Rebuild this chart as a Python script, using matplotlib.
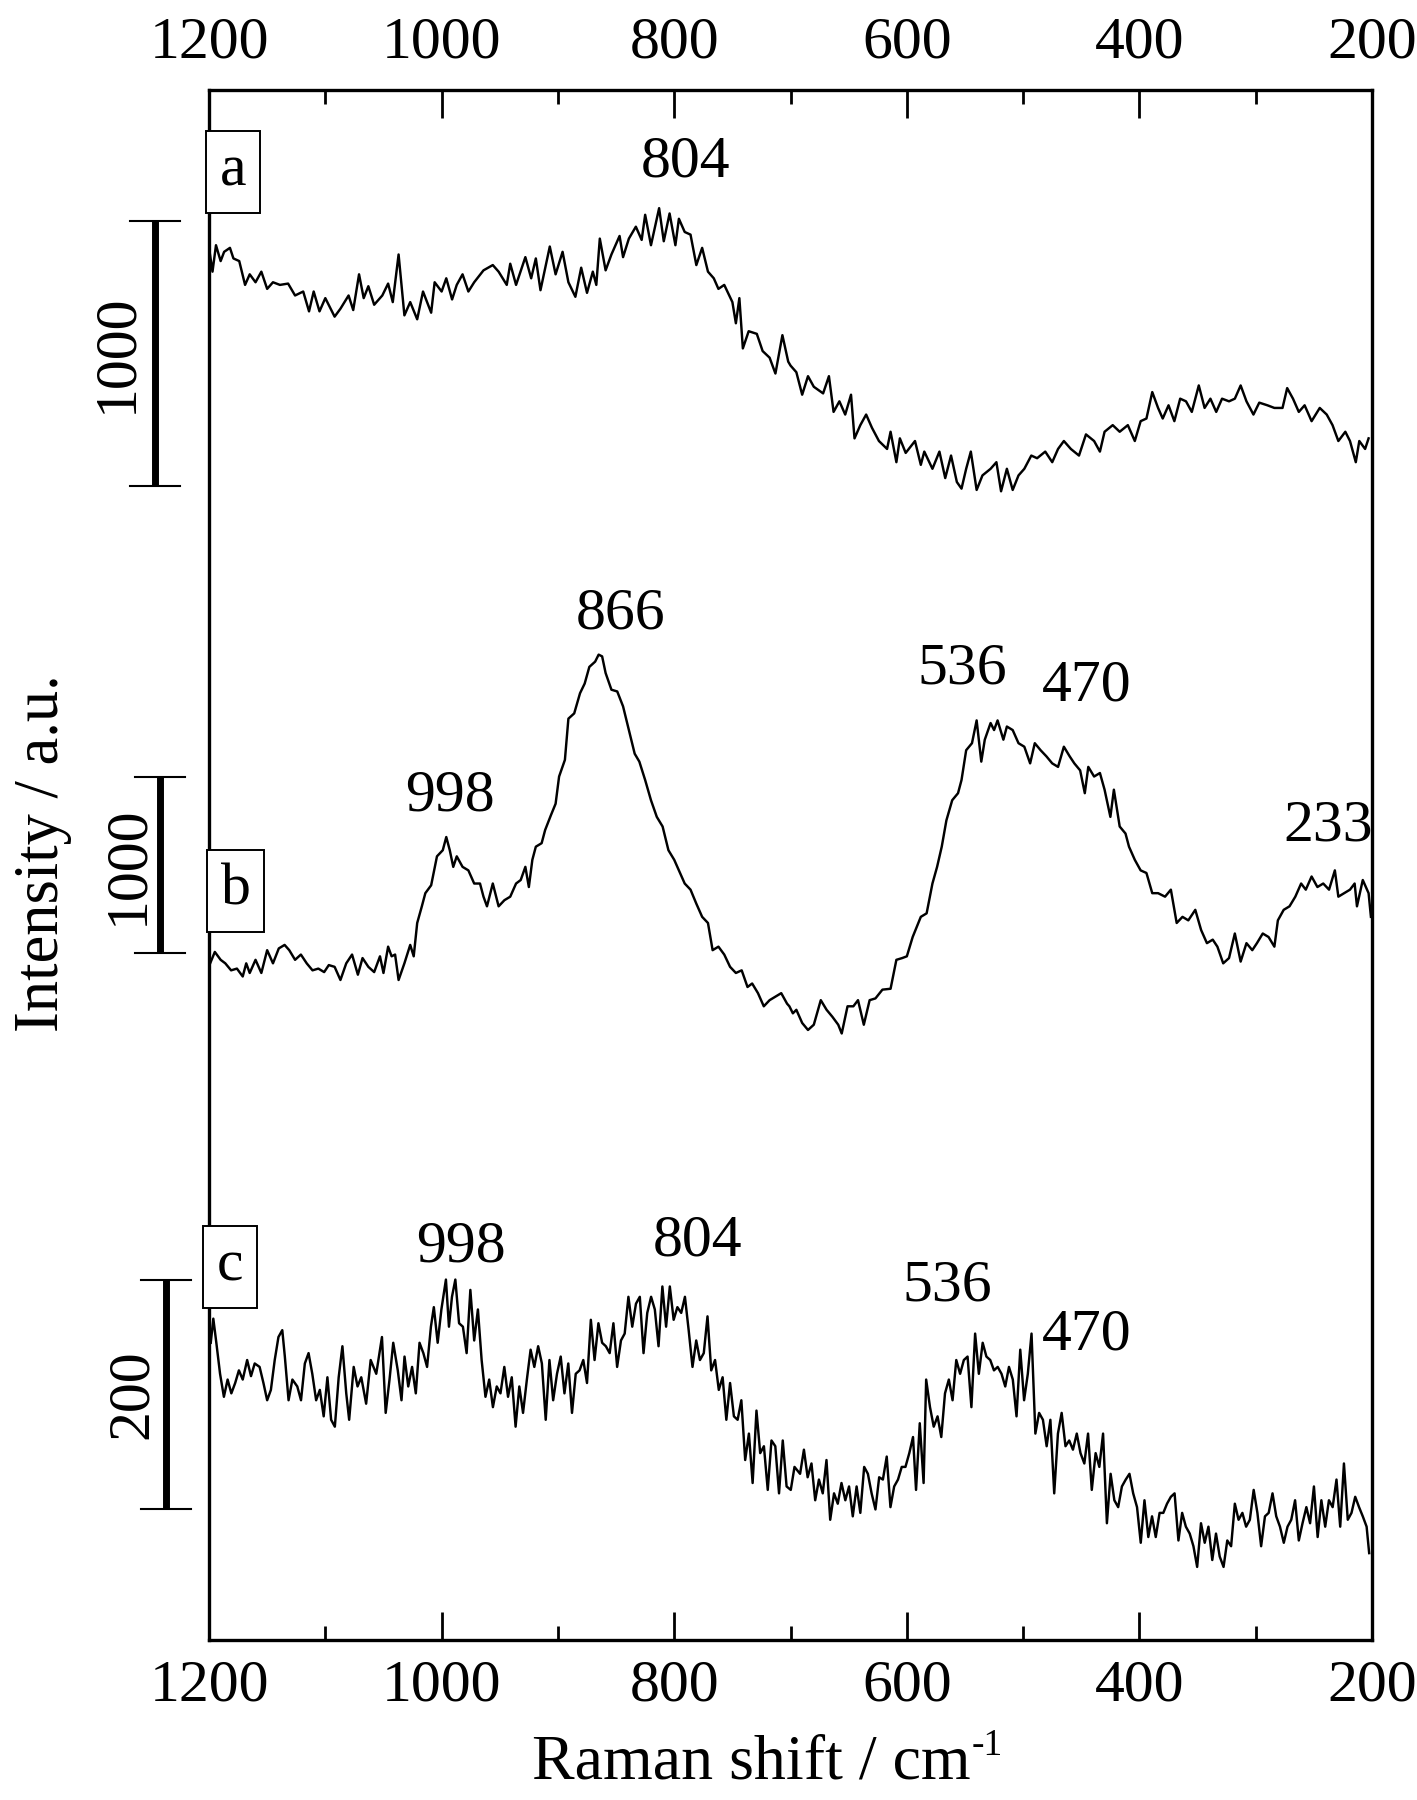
import numpy as np
import matplotlib
matplotlib.use("Agg")
import matplotlib.pyplot as plt
from matplotlib.ticker import MultipleLocator
from matplotlib.transforms import blended_transform_factory

plt.rcParams['font.family'] = ['Liberation Serif', 'DejaVu Serif']

# ---- spectra (Raman shift / cm-1, intensity / counts) ----
wn_a = [1200, 1197, 1194, 1190, 1187, 1182, 1179, 1174, 1169, 1165,
        1160, 1155, 1150, 1145, 1139, 1132, 1126, 1119, 1114, 1110,
        1105, 1100, 1092, 1087, 1080, 1076, 1071, 1067, 1063, 1058,
        1051, 1046, 1042, 1037, 1032, 1027, 1021, 1016, 1009, 1006,
        1000, 996, 991, 987, 982, 977, 972, 964, 956, 951,
        944, 941, 936, 928, 923, 919, 915, 907, 902, 896,
        891, 885, 880, 875, 870, 867, 864, 859, 854, 847,
        844, 839, 833, 828, 825, 820, 813, 809, 804, 799,
        796, 791, 786, 781, 776, 771, 766, 762, 757, 750,
        747, 744, 741, 736, 729, 724, 718, 713, 707, 702,
        700, 695, 690, 685, 680, 672, 667, 663, 658, 653,
        648, 645, 640, 635, 630, 624, 617, 614, 609, 606,
        601, 593, 588, 585, 578, 572, 567, 562, 557, 553,
        549, 545, 540, 535, 528, 523, 519, 514, 509, 504,
        499, 493, 488, 481, 475, 470, 465, 459, 452, 446,
        439, 434, 430, 423, 417, 410, 404, 399, 394, 389,
        384, 380, 375, 370, 365, 360, 355, 349, 344, 339,
        334, 329, 323, 318, 313, 308, 302, 297, 290, 284,
        277, 273, 268, 263, 258, 252, 245, 239, 234, 229,
        223, 219, 214, 211, 206, 203]
int_a = [900, 810, 910, 850, 885, 900, 860, 850, 760, 800,
         770, 810, 745, 770, 760, 765, 720, 735, 660, 735,
         660, 710, 640, 670, 720, 665, 800, 710, 755, 685,
         720, 765, 695, 875, 645, 695, 630, 735, 655, 770,
         735, 785, 705, 760, 800, 735, 770, 815, 835, 810,
         760, 840, 760, 865, 785, 860, 740, 905, 800, 885,
         770, 715, 825, 730, 810, 760, 935, 815, 875, 945,
         865, 935, 980, 930, 1025, 910, 1050, 925, 1030, 910,
         1010, 960, 950, 835, 900, 810, 785, 745, 760, 695,
         615, 710, 520, 585, 575, 510, 485, 425, 570, 470,
         455, 430, 345, 415, 375, 350, 415, 280, 320, 270,
         345, 180, 230, 270, 220, 170, 140, 205, 90, 180,
         125, 170, 80, 130, 65, 130, 30, 115, 15, -10,
         65, 130, -15, 40, 65, 90, -20, 65, -15, 40,
         65, 115, 105, 130, 90, 140, 170, 140, 115, 195,
         170, 130, 205, 230, 205, 230, 170, 245, 255, 355,
         295, 255, 305, 245, 330, 320, 280, 380, 295, 330,
         280, 330, 320, 330, 380, 320, 270, 315, 305, 295,
         295, 370, 330, 280, 305, 245, 295, 270, 230, 170,
         205, 170, 90, 170, 140, 180]

wn_b = [1199, 1195, 1190, 1186, 1181, 1176, 1171, 1168, 1165, 1160,
        1155, 1150, 1145, 1140, 1135, 1131, 1126, 1121, 1116, 1111,
        1106, 1101, 1097, 1092, 1087, 1082, 1077, 1072, 1068, 1063,
        1058, 1053, 1050, 1046, 1043, 1040, 1037, 1032, 1027, 1024,
        1021, 1017, 1014, 1009, 1004, 999, 996, 993, 990, 987,
        982, 977, 972, 967, 964, 961, 956, 951, 946, 941,
        936, 932, 928, 925, 922, 919, 914, 911, 906, 902,
        899, 894, 891, 886, 881, 877, 873, 868, 865, 862,
        859, 854, 849, 844, 839, 834, 830, 825, 820, 815,
        810, 805, 800, 796, 791, 786, 781, 776, 771, 767,
        762, 757, 752, 747, 742, 737, 733, 728, 723, 718,
        713, 708, 703,
        701, 698, 695, 690, 685, 680, 674, 669, 664, 659,
        656, 651, 646, 642, 637, 632, 627, 621, 614, 609,
        604, 600, 595, 588, 583, 578, 574, 570, 566, 561,
        556, 553, 549, 544, 540, 536, 533, 528, 525, 522,
        517, 514, 509, 504, 499, 494, 490, 485, 480, 475,
        470, 465, 460, 456, 451, 447, 444, 439, 434, 430,
        425, 422, 417, 412, 409, 404, 399, 394, 389, 384,
        378, 373, 368, 363, 358, 352, 347, 342, 337, 333,
        328, 323, 318, 313, 308, 303, 299, 294, 289, 284,
        281, 276, 271, 266, 261, 257, 252, 247, 242, 237,
        232, 229, 224, 219, 215, 213, 208, 203, 201]
int_b = [400, 465, 420, 400, 360, 370, 325, 400, 345, 420,
         345, 475, 400, 485, 505, 475, 420, 450, 400, 360,
         370, 350, 390, 380, 305, 400, 450, 335, 430, 380,
         350, 440, 345, 495, 440, 450, 305, 400, 505, 440,
         630, 725, 800, 845, 1010, 1045, 1120, 1045, 950, 1010,
         950, 930, 855, 855, 780, 725, 855, 725, 760, 780,
         855, 875, 950, 835, 990, 1065, 1085, 1160, 1245, 1310,
         1465, 1560, 1795, 1825, 1940, 1995, 2090, 2120, 2160, 2150,
         2055, 1960, 1950, 1865, 1730, 1595, 1550, 1445, 1330, 1235,
         1180, 1045, 990, 930, 855, 820, 740, 665, 630, 475,
         495, 450, 380, 345, 360, 265, 285, 230, 155, 190,
         210, 230, 170,
         155, 115, 135, 60, 20, 50, 190, 135, 95, 50,
         0, 155, 155, 190, 50, 190, 200, 250, 255, 420,
         430, 440, 550, 665, 685, 855, 950, 1065, 1215, 1330,
         1370, 1445, 1615, 1655, 1785, 1550, 1675, 1770, 1730, 1785,
         1675, 1750, 1730, 1655, 1635, 1540, 1655, 1615, 1580, 1540,
         1520, 1635, 1580, 1540, 1500, 1370, 1520, 1465, 1485, 1390,
         1235, 1390, 1180, 1140, 1065, 990, 930, 915, 800, 800,
         780, 820, 630, 665, 645, 705, 590, 515, 535, 495,
         400, 430, 570, 410, 515, 475, 515, 570, 550, 495,
         645, 705, 725, 780, 855, 820, 895, 835, 855, 820,
         930, 780, 800, 820, 855, 725, 875, 800, 665]

wn_c = [1198.5, 1196.3, 1193.7, 1190.5, 1187.2, 1184.0, 1180.8, 1177.5, 1174.3, 1171.0,
        1167.2, 1163.9, 1160.7, 1156.5, 1153.2, 1150.0, 1146.8, 1143.5, 1140.3, 1137.0,
        1134.8, 1131.6, 1128.3, 1124.1, 1120.9, 1117.6, 1114.4, 1111.2, 1107.9, 1104.7,
        1101.4, 1098.2, 1095.0, 1091.8, 1088.5, 1085.3, 1082.0, 1079.5, 1075.6, 1072.3,
        1069.1, 1064.9, 1061.0, 1056.2, 1051.3, 1048.1, 1044.8, 1041.6, 1037.7, 1034.5,
        1031.9, 1028.7, 1025.4, 1022.2, 1019.0, 1015.7, 1012.5, 1009.2, 1006.7, 1003.4,
        1000.2, 996.3, 993.7, 991.1, 988.2, 985.0, 981.7, 978.5, 975.3, 972.0,
        968.8, 965.6, 962.3, 959.1, 955.9, 952.6, 949.4, 946.1, 942.9, 939.7,
        936.4, 933.2, 930.0, 926.7, 923.5, 920.3, 917.0, 913.8, 910.5, 907.3,
        904.1, 900.8, 897.6, 894.4, 891.1, 887.9, 884.7, 881.4, 878.2, 875.0,
        871.7, 868.5, 865.2, 862.0, 858.8, 855.5, 852.3, 849.1, 845.8, 842.6,
        839.4, 836.1, 832.9, 829.6, 826.4, 823.2, 819.9, 816.7, 813.5, 810.2,
        807.0, 803.8, 800.5, 797.3, 794.0, 790.8, 787.6, 784.3, 781.1, 777.9,
        774.6, 771.4, 768.2, 764.9, 761.7, 758.4, 755.2, 752.0, 748.7, 745.5,
        742.3, 739.0, 735.8, 732.6, 729.3, 726.1, 722.9, 719.6, 716.4, 713.1,
        709.9, 706.7, 703.4,
        699.8, 696.6, 691.8, 688.5, 685.3, 682.0, 678.8, 675.6, 672.3, 669.1,
        665.9, 662.6, 659.4, 656.2, 652.9, 649.7, 646.5, 643.2, 640.0, 636.7,
        633.5, 630.3, 627.0, 623.8, 620.6, 617.3, 614.1, 610.9, 607.6, 604.4,
        601.2, 597.9, 594.7, 592.1, 588.9, 585.6, 583.4, 580.1, 576.9, 573.6,
        570.4, 567.2, 563.9, 560.7, 557.5, 554.2, 551.0, 547.8, 544.5, 541.3,
        538.1, 534.8, 531.6, 528.3, 525.1, 521.9, 518.6, 515.4, 512.2, 508.9,
        505.7, 502.5, 499.2, 496.0, 492.8, 489.5, 486.3, 483.0, 479.8, 476.6,
        473.3, 470.1, 466.9, 463.6, 460.4, 457.2, 453.9, 450.7, 447.4, 444.2,
        441.0, 437.7, 434.5, 431.3, 428.0, 424.8, 421.6, 418.3, 415.1, 411.8,
        408.6, 405.4, 402.1, 398.9, 395.7, 392.4, 389.2, 386.0, 382.7, 379.5,
        376.3, 373.0, 369.8, 366.5, 363.3, 360.1, 356.8, 353.6, 350.4, 347.1,
        343.9, 340.7, 337.4, 334.2, 331.0, 327.7, 324.5, 321.2, 318.0, 314.8,
        311.5, 308.3, 305.1, 301.8, 298.6, 295.4, 292.1, 288.9, 285.6, 282.4,
        279.2, 275.9, 272.7, 269.5, 266.2, 263.0, 259.8, 256.5, 253.3, 250.0,
        246.8, 243.6, 240.3, 237.1, 233.9, 230.6, 227.4, 224.2, 220.9, 217.7,
        214.5, 211.2, 208.0, 204.7, 202.5]
int_c = [245, 266, 245, 218, 198, 213, 201, 210, 221, 213,
         230, 216, 227, 224, 210, 195, 204, 230, 250, 256,
         233, 195, 213, 207, 195, 227, 236, 218, 195, 204,
         181, 215, 178, 172, 215, 242, 201, 178, 224, 207,
         215, 192, 230, 218, 250, 184, 213, 245, 221, 195,
         233, 207, 224, 201, 245, 236, 224, 259, 276, 245,
         274, 300, 259, 285, 300, 262, 259, 236, 291, 247,
         274, 230, 198, 213, 189, 207, 201, 224, 198, 215,
         172, 207, 184, 213, 239, 224, 242, 227, 178, 230,
         195, 218, 233, 201, 227, 184, 218, 221, 230, 210,
         265, 230, 262, 245, 242, 236, 262, 224, 247, 253,
         285, 259, 279, 285, 236, 271, 285, 274, 242, 294,
         259, 294, 265, 276, 271, 285, 256, 224, 247, 230,
         236, 268, 221, 230, 204, 215, 178, 210, 181, 178,
         195, 143, 166, 123, 186, 149, 155, 117, 160, 155,
         114, 160, 120,
         117, 137, 131, 152, 128, 140, 108, 126, 114, 143,
         91, 114, 105, 123, 108, 120, 94, 120, 97, 137,
         131, 114, 100, 128, 126, 146, 102, 120, 126, 137,
         137, 149, 163, 117, 175, 123, 213, 189, 172, 181,
         163, 201, 213, 195, 230, 218, 230, 233, 189, 253,
         218, 245, 233, 230, 221, 224, 218, 207, 224, 213,
         181, 239, 195, 218, 253, 166, 184, 178, 155, 178,
         114, 166, 184, 155, 160, 152, 166, 149, 140, 166,
         117, 149, 137, 166, 88, 131, 108, 102, 120, 126,
         131, 114, 102, 71, 108, 76, 94, 76, 97, 97,
         105, 111, 114, 73, 97, 85, 79, 68, 50, 88,
         71, 85, 56, 79, 59, 50, 73, 68, 105, 91,
         97, 85, 91, 117, 97, 68, 94, 97, 114, 94,
         85, 71, 85, 91, 108, 73, 88, 102, 88, 120,
         76, 108, 85, 108, 102, 126, 85, 140, 91, 97,
         111, 102, 94, 85, 62]

panel_names = ["a", "b", "c"]
peaks_a = ["804"]
peaks_b = ["998", "866", "536", "470", "233"]
peaks_c = ["998", "804", "536", "470"]
bar_counts = [1000, 1000, 200]

# ---- layout (axis y unit = pixels above the lower frame) ----
offsets = [1154.0, 606.5, 15.6]       # where count 0 of each trace sits
scales = [0.2646, 0.1754, 1.1494]     # height per count for each trace
bar_start = [0, 460, 100]             # count where each scale bar begins
bar_x = [-0.0464, -0.0421, -0.0370]
cap_half = 0.0215
bar_text_x = [-0.079, -0.0696, -0.0653]
peak_pos = [[(790, 1477)],
            [(993, 843), (846, 1025), (552, 970), (445, 953), (238, 813)],
            [(983, 392), (780, 398), (565, 353), (445, 304)]]
name_pos = [(1179, 1468), (1177, 749), (1182, 373)]

FS = 43

fig = plt.figure(figsize=(14.17, 18), dpi=100)
ax = fig.add_axes([0.1475, 0.0889, 0.8208, 0.8611])

traces = [(wn_a, int_a), (wn_b, int_b), (wn_c, int_c)]
for (wn, cnt), off, k in zip(traces, offsets, scales):
    ax.plot(wn, off + k * np.asarray(cnt, dtype=float), color='black', lw=1.75)

ax.set_xlim(1200, 200)
ax.set_ylim(0, 1550)
ax.set_yticks([])
ax.xaxis.set_major_locator(MultipleLocator(200))
ax.xaxis.set_minor_locator(MultipleLocator(100))
ax.tick_params(axis='x', which='both', direction='in', top=True, bottom=True,
               labeltop=True, labelbottom=True, width=2, labelsize=FS, pad=14)
ax.tick_params(axis='x', which='major', length=20)
ax.tick_params(axis='x', which='minor', length=10)
for s in ax.spines.values():
    s.set_linewidth(2.4)

# scale bars
tr = blended_transform_factory(ax.transAxes, ax.transData)
for i in range(3):
    y0 = offsets[i] + scales[i] * bar_start[i]
    y1 = offsets[i] + scales[i] * (bar_start[i] + bar_counts[i])
    ax.plot([bar_x[i], bar_x[i]], [y0, y1], transform=tr, color='black',
            lw=5, solid_capstyle='butt', clip_on=False)
    for yy in (y0, y1):
        ax.plot([bar_x[i] - cap_half, bar_x[i] + cap_half], [yy, yy],
                transform=tr, color='black', lw=1.5, clip_on=False)
    ax.text(bar_text_x[i], (y0 + y1) / 2, str(bar_counts[i]), transform=tr,
            rotation=90, ha='center', va='center', fontsize=FS)

# peak labels
for labels, pos in zip([peaks_a, peaks_b, peaks_c], peak_pos):
    for lab, (x, y) in zip(labels, pos):
        ax.text(x, y, lab, ha='center', va='center', fontsize=FS)

# panel letters in boxes
for name, (x, y) in zip(panel_names, name_pos):
    ax.text(x, y, name, ha='center', va='center', fontsize=FS, zorder=10,
            clip_on=False,
            bbox=dict(boxstyle='square,pad=0.23', fc='white', ec='black', lw=1.4))

fig.text(0.030, 0.526, "Intensity / a.u.", rotation=90, ha='center',
         va='center', fontsize=45)
xl = fig.text(0.530, 0.012, "Raman shift / cm", ha='center',
              va='baseline', fontsize=46)
fig.add_artist(plt.Annotation("-1", xy=(1.0, 1.0), xycoords=xl,
                              xytext=(1, 4), textcoords='offset points',
                              ha='left', va='top', fontsize=27))

fig.savefig("out.png", dpi=100)
